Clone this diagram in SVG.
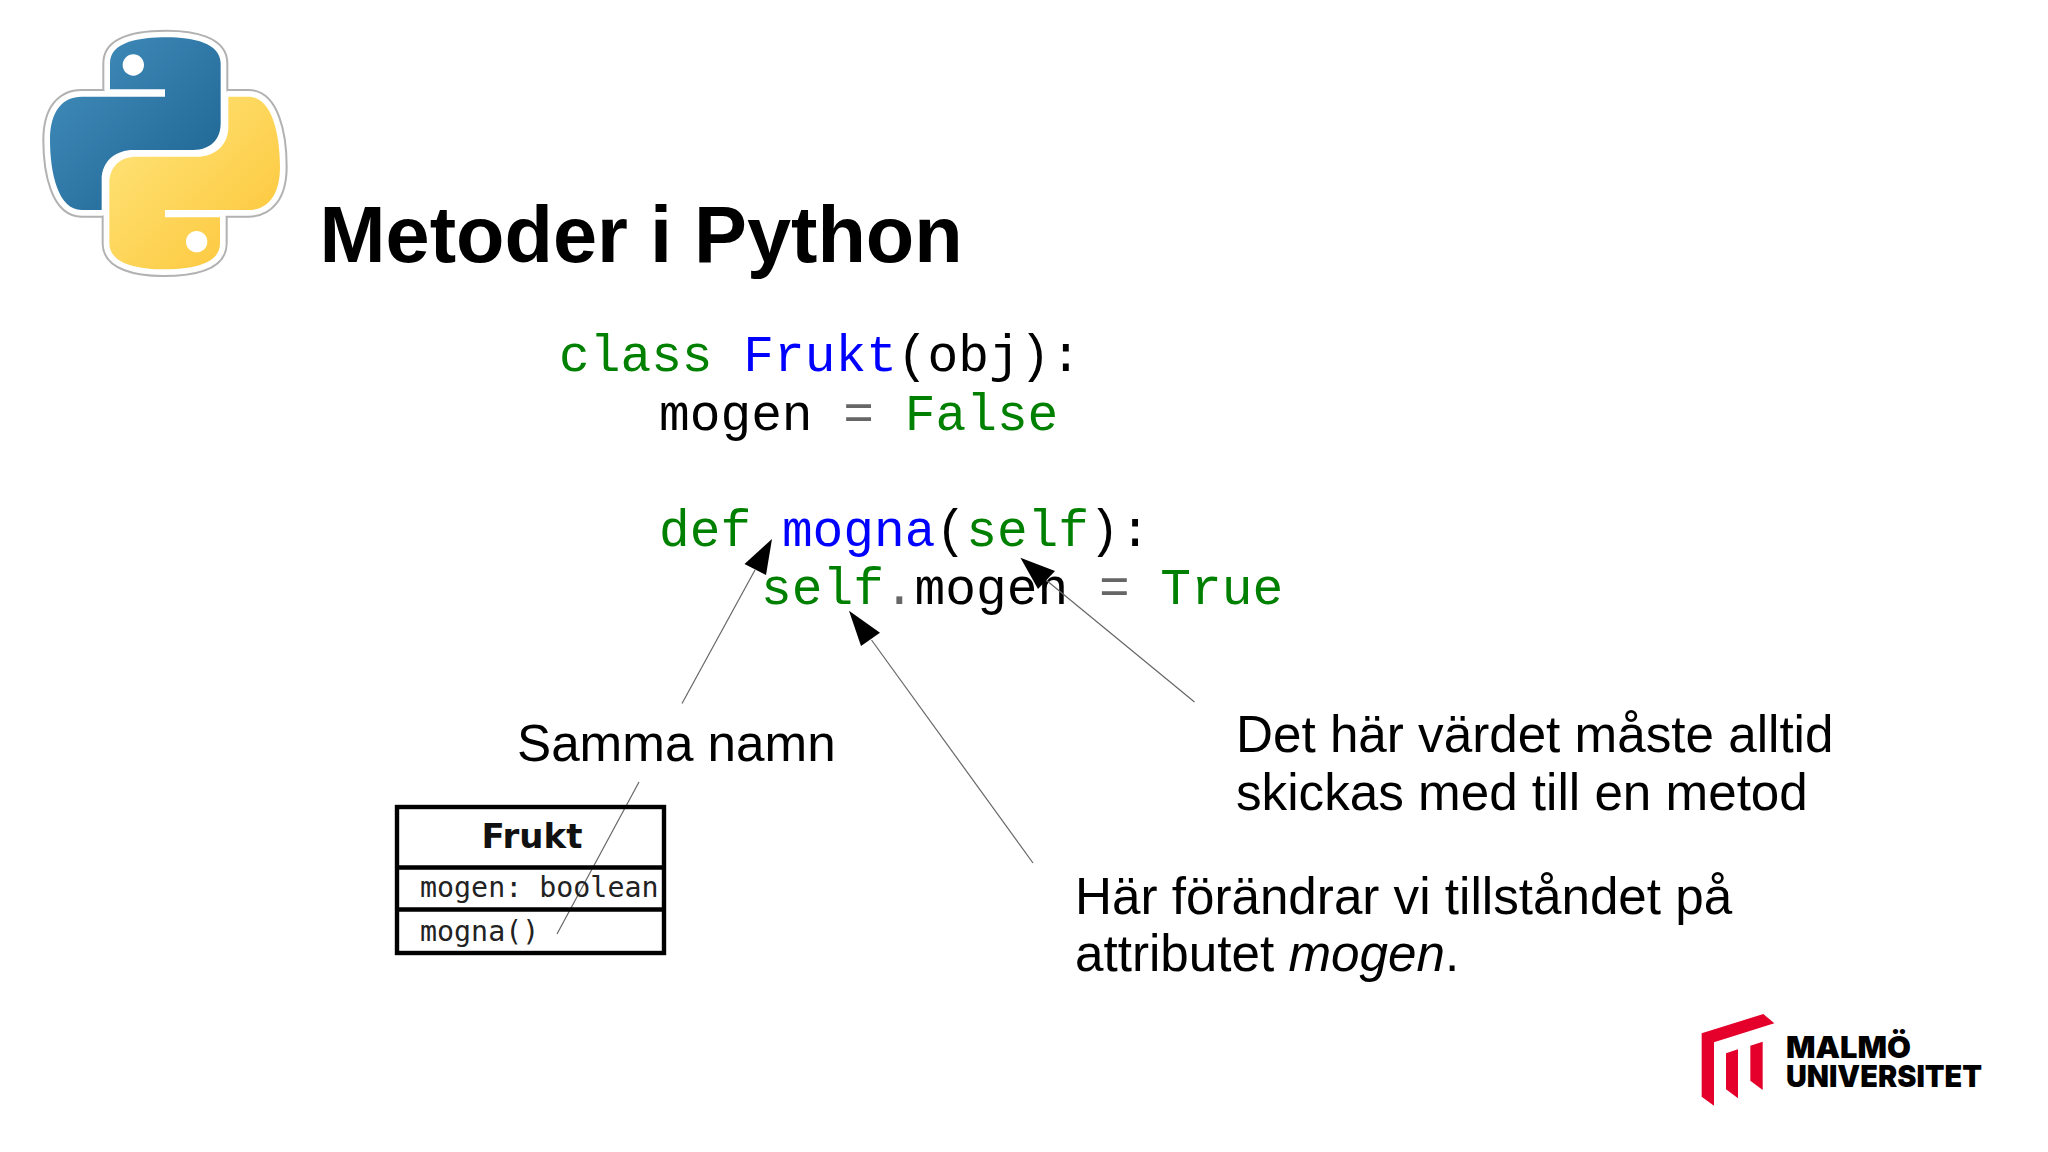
<svg xmlns="http://www.w3.org/2000/svg" xmlns:xlink="http://www.w3.org/1999/xlink" width="2048" height="1152" viewBox="0 0 2048 1152">
<style>
.sans{font-family:"Liberation Sans",Arial,sans-serif;font-size:51.2px;fill:#000}
.code{font-family:"Liberation Mono","Courier New",monospace;font-size:51.2px;fill:#000}
.g{fill:#008000}.b{fill:#0000ff}.o{fill:#666}
.conn{stroke:#666;stroke-width:1.2;fill:none}
.head{fill:#000;stroke:none}
.mono{font-family:"DejaVu Sans Mono",monospace;font-size:28.3px;fill:#222}
.brand{font-family:Inter,"Liberation Sans",sans-serif;font-weight:900;font-size:30px;fill:#000}
</style>
<defs>
<linearGradient id="bl" x1="0" y1="0" x2="1" y2="1"><stop offset="0" stop-color="#4590bf"/><stop offset="1" stop-color="#1a618f"/></linearGradient>
<linearGradient id="yl" x1="1" y1="1" x2="0" y2="0"><stop offset="0" stop-color="#ffe77f"/><stop offset="1" stop-color="#fcc435"/></linearGradient>
<path id="snake" d="M500 112C420 112 330 125 330 190L330 268L495 268L495 290L245 290C190 290 150 330 150 420C150 520 175 630 245 630L305 630L305 540C305 480 350 450 400 450L580 450C630 450 662 420 662 370L662 190C662 130 580 112 500 112Z"/>
</defs>
<rect width="2048" height="1152" fill="#fff"/>
<g id="python-logo" transform="scale(.33333)">
<use xlink:href="#snake" fill="none" stroke="#b2b2b2" stroke-width="46" stroke-linejoin="round"/>
<use xlink:href="#snake" fill="none" stroke="#b2b2b2" stroke-width="46" stroke-linejoin="round" transform="rotate(180 495 460)"/>
<use xlink:href="#snake" fill="none" stroke="#fff" stroke-width="34" stroke-linejoin="round"/>
<use xlink:href="#snake" fill="none" stroke="#fff" stroke-width="34" stroke-linejoin="round" transform="rotate(180 495 460)"/>
<use xlink:href="#snake" fill="url(#bl)"/>
<use xlink:href="#snake" fill="url(#yl)" transform="rotate(180 495 460)"/>
<circle cx="400" cy="195" r="32" fill="#fff"/>
<circle cx="590" cy="725" r="32" fill="#fff"/>
</g>
<g id="title"><text x="319.5" y="262" font-family="Liberation Sans,Arial,sans-serif" font-weight="700" font-size="79.3" fill="#000">Metoder i Python</text></g>
<g id="code">
<text class="code" x="559" y="371"><tspan class="g">class</tspan> <tspan class="b">Frukt</tspan>(obj):</text>
<text class="code" x="659" y="430">mogen <tspan class="o">=</tspan> <tspan class="g">False</tspan></text>
<text class="code" x="659" y="546"><tspan class="g">def</tspan> <tspan class="b">mogna</tspan>(<tspan class="g">self</tspan>):</text>
<text class="code" x="761" y="604"><tspan class="g">self</tspan><tspan class="o">.</tspan>mogen <tspan class="o">=</tspan> <tspan class="g">True</tspan></text>
</g>
<g id="connectors">
<path class="conn" d="M682 703.5L755 570"/>
<polygon class="head" points="772,539 744.5,564 766,575"/>
<path class="conn" d="M1033 863L871.5 640"/>
<polygon class="head" points="849,610.7 880,632.7 861,646"/>
<path class="conn" d="M1194.5 702L1046 580"/>
<polygon class="head" points="1020.4,557.7 1055,571 1038,589"/>
<path class="conn" d="M639 782L557 934"/>
</g>
<g id="label-samma"><text class="sans" x="517" y="761">Samma namn</text></g>
<g id="label-varde"><text class="sans" x="1236" y="752">Det här värdet måste alltid</text><text class="sans" x="1236" y="810">skickas med till en metod</text></g>
<g id="label-tillstand"><text class="sans" x="1075" y="914">Här förändrar vi tillståndet på</text><text class="sans" x="1075" y="971">attributet <tspan font-style="italic">mogen</tspan>.</text></g>
<g id="uml-frukt">
<rect x="397" y="807" width="267" height="146" fill="none" stroke="#000" stroke-width="4.4"/>
<path d="M397 867.500H664M397 909.500H664" stroke="#000" stroke-width="4.4" fill="none"/>
<text x="532" y="848" text-anchor="middle" font-family="DejaVu Sans,sans-serif" font-weight="700" font-size="34" fill="#111">Frukt</text>
<text class="mono" x="420" y="897">mogen: boolean</text>
<text class="mono" x="420" y="941">mogna()</text>
</g>
<g id="malmo-logo">
<g transform="translate(1670 990) scale(.33333)" fill="#e4002b">
<polygon points="95,130 280,72 313,100 132,157 132,347 95,320"/>
<polygon points="168,190 204,178 204,325 168,298"/>
<polygon points="241,167 278,155 278,300 241,272"/>
</g>
<text class="brand" x="1786" y="1058" textLength="125" lengthAdjust="spacingAndGlyphs">MALMÖ</text>
<text class="brand" x="1786" y="1087" textLength="196" lengthAdjust="spacingAndGlyphs">UNIVERSITET</text>
</g>
</svg>
